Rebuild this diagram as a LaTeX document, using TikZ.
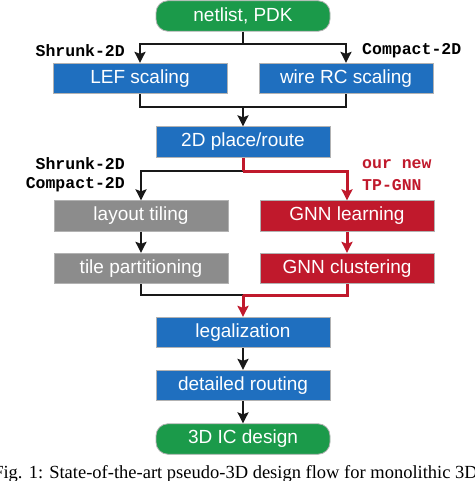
\documentclass[tikz,border=0pt]{standalone}
\usepackage{fontspec}
\setmainfont{Liberation Serif}
\setsansfont{Liberation Sans}
\setmonofont{Liberation Mono}
\usetikzlibrary{arrows.meta}

\definecolor{flowblue}{HTML}{1F6FBF}
\definecolor{flowgreen}{HTML}{1B9A4A}
\definecolor{flowgray}{HTML}{8C8C8C}
\definecolor{flowred}{HTML}{C0192C}

\tikzset{
  box/.style={draw=black!30, line width=0.8pt, text=white, inner sep=0pt,
    minimum width=174pt, minimum height=30.5pt,
    font=\sffamily\fontsize{19}{21}\selectfont},
  bluebox/.style={box, fill=flowblue},
  graybox/.style={box, fill=flowgray},
  redbox/.style={box, fill=flowred},
  termbox/.style={box, fill=flowgreen, rounded corners=12pt},
  flow/.style={line width=2pt, black!90},
  redflow/.style={line width=3pt, flowred},
  lbl/.style={font=\ttfamily\bfseries\fontsize{16.5}{18}\selectfont, inner sep=0pt}
}

\begin{document}
\begin{tikzpicture}[x=1pt, y=-1pt, >={Stealth[length=11pt, width=11pt, inset=2pt]}]

    \useasboundingbox (0, 0) rectangle (474, 481);
    \clip (0, 0) rectangle (474, 481);

    % --- 1. boxes ---
    \node[termbox] (netlist) at (243, 16) {netlist, PDK};
    \node[bluebox] (lef) at (140, 78.5) {LEF scaling};
    \node[bluebox] (wirerc) at (346, 78.5) {wire RC scaling};
    \node[bluebox] (place) at (243, 142) {2D place/route};
    \node[graybox] (tiling) at (141, 216) {layout tiling};
    \node[redbox] (gnnlearn) at (347, 216) {GNN learning};
    \node[graybox] (tilepart) at (141, 268.5) {tile partitioning};
    \node[redbox] (gnnclust) at (347, 268.5) {GNN clustering};
    \node[bluebox] (legal) at (243, 332.5) {legalization};
    \node[bluebox] (detroute) at (243, 385.5) {detailed routing};
    \node[termbox] (icdesign) at (243, 439) {3D IC design};

    % --- 2. split and merge points ---
    \coordinate (split1) at (243, 44);
    \coordinate (merge1) at (243, 107);
    \coordinate (split2) at (243, 171);
    \coordinate (merge2) at (243, 295);

    % --- 3. black connectors ---
    \draw[flow] (netlist) -- (split1);
    \draw[flow, ->] (split1) -| (lef);
    \draw[flow, ->] (split1) -| (wirerc);
    \draw[flow] (lef.south) |- (merge1) -| (wirerc.south);
    \draw[flow, ->] (merge1) -- (place);
    \draw[flow, ->] (split2) -| (tiling);
    \draw[flow, ->] (tiling) -- (tilepart);
    \draw[flow] (tilepart.south) |- (merge2);
    \draw[flow, ->] (legal) -- (detroute);
    \draw[flow, ->] (detroute) -- (icdesign);

    % --- 4. red connectors (TP-GNN) ---
    \draw[redflow] (place) -- (split2);
    \draw[redflow, ->] (split2) -| (gnnlearn);
    \draw[redflow, ->] (gnnlearn) -- (gnnclust);
    \draw[redflow] (gnnclust.south) |- (merge2);
    \draw[redflow, ->] (merge2) -- (legal);

    % --- 5. flow labels ---
    \node[lbl, anchor=east] (shrunka) at (125, 51) {Shrunk-2D};
    \node[lbl, anchor=west] (compacta) at (362, 51) {Compact-2D};
    \node[lbl, anchor=east] (shrunkb) at (125, 164) {Shrunk-2D};
    \node[lbl, anchor=east] (compactb) at (125, 185) {Compact-2D};
    \node[lbl, anchor=west, text=flowred] (ournew) at (362, 164) {our new};
    \node[lbl, anchor=west, text=flowred] (tpgnn) at (362, 185) {TP-GNN};

    % --- 6. caption (cut at both edges, as printed) ---
    \node[anchor=base east, inner sep=0pt, font=\fontsize{18.5}{20}\selectfont] (caption) at (478, 478)
      {Fig. 1: State-of-the-art pseudo-3D design flow for monolithic 3D};

  \end{tikzpicture}
\end{document}
